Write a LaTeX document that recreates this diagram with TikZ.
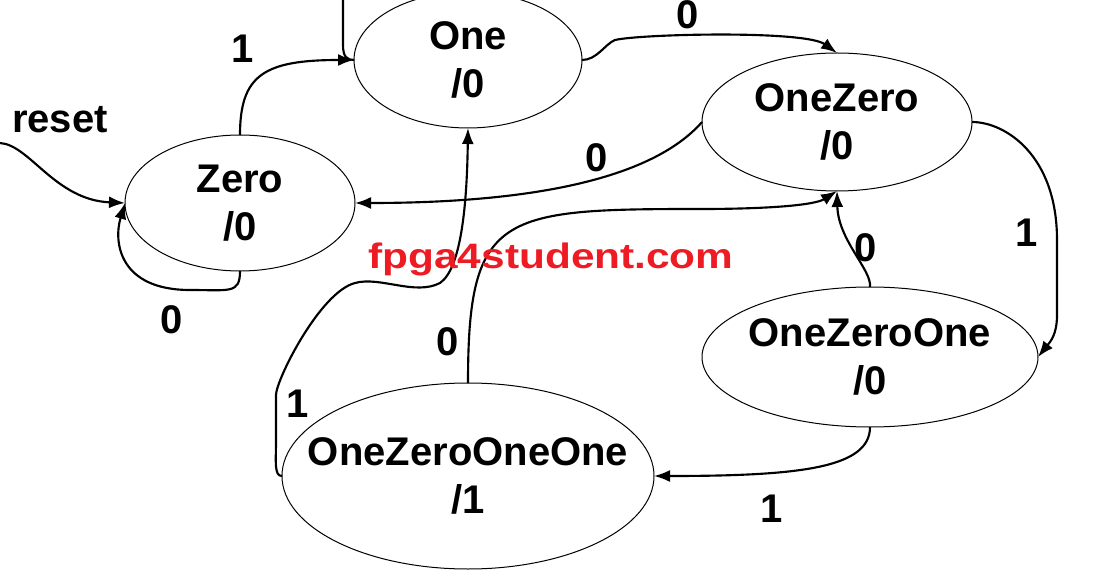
\documentclass[tikz,border=0pt]{standalone}
\usepackage{fontspec}
\setmainfont{Liberation Sans}
\usetikzlibrary{arrows.meta}
\usetikzlibrary{shapes.geometric}
\definecolor{webred}{RGB}{237,28,36}

\tikzset{
  state/.style={draw, ellipse, line width=0.75pt, inner sep=-40pt, outer sep=0pt, align=center, font=\bfseries\fontsize{30}{36}\selectfont},
  edge/.style={line width=1.6pt, -{Latex[length=12pt,width=9pt]}},
  bare/.style={line width=1.6pt},
  tlabel/.style={anchor=base, inner sep=0pt, font=\bfseries\fontsize{30}{36}\selectfont},
}

\begin{document}
\begin{tikzpicture}[x=0.75pt,y=0.75pt,yscale=-1,xscale=1]
\useasboundingbox (0,0) rectangle (1099,577);
\clip (0,0) rectangle (1099,577);

% Ellipse
\node (zero) [state, minimum width=172.5pt, minimum height=102pt] at (240,203) {Zero\\/0};
% Ellipse
\node (one) [state, minimum width=171pt, minimum height=102pt] at (468,60) {One\\/0};
% Ellipse
\node (onezero) [state, minimum width=202.5pt, minimum height=103.5pt] at (837,122) {OneZero\\/0};
% Ellipse
\node (onezeroone) [state, minimum width=252pt, minimum height=105pt] at (870,357) {OneZeroOne\\/0};
% Ellipse
\node (onezerooneone) [state, minimum width=279pt, minimum height=139.5pt] at (468,476) {OneZeroOneOne\\/1};

\coordinate (resetstart) at (0,143);
\coordinate (oneloop) at (343,-5);

% Curve Lines
\draw [edge] (resetstart) .. controls (30,145) and (55,200) .. (zero.west);
% Curve Lines
\draw [edge] (zero.south) .. controls (240,294) and (230,290) .. (190,290) .. controls (120,290) and (113,243) .. (zero.west);
% Curve Lines
\draw [edge] (zero.north) .. controls +(0,-60) and +(-90,0) .. (one.west);
% Curve Lines
\draw [bare] (oneloop) -- (343,45) .. controls (343,57) and (347,60) .. (one.west);
% Curve Lines
\draw [edge] (one.east) .. controls (597,60) and (605,44) .. (615,40) .. controls (640,34) and (805,30) .. (onezero.north);
% Curve Lines
\draw [edge] (onezero.west) .. controls (660,170) and (560,203) .. (zero.east);
% Curve Lines
\draw [edge] (onezero.east) .. controls (1005,122) and (1057,155) .. (1057,240) -- (1057,315) .. controls (1057,335) and (1050,342) .. (onezeroone.east);
% Curve Lines
\draw [edge] (onezeroone.north) .. controls (872,270) and (838,240) .. (onezero.south);
% Curve Lines
\draw [edge] (onezeroone.south) .. controls (870,468) and (800,476) .. (onezerooneone.east);
% Curve Lines
\draw [edge] (onezerooneone.north) .. controls +(0,-170) and +(-200,0) .. (700,209) .. controls (770,209) and (815,205) .. (onezero.south);
% Curve Lines
\draw [edge] (onezerooneone.west) .. controls (274,476) and (276,462) .. (276,440) -- (276,395) .. controls (276,380) and (320,292) .. (355,283) .. controls (380,276) and (415,296) .. (440,283) .. controls (462,268) and (467,200) .. (one.south);

% Text Node
\node (lreset) [tlabel] at (60,133) {reset};
% Text Node
\node (lzeroone) [tlabel] at (243,63) {1};
% Text Node
\node (lonetwo) [tlabel] at (688,29) {0};
% Text Node
\node (ltwozero) [tlabel] at (597,172) {0};
% Text Node
\node (ltwothree) [tlabel] at (1027,247) {1};
% Text Node
\node (lthreetwo) [tlabel] at (866,262) {0};
% Text Node
\node (lfourtwo) [tlabel] at (448,355) {0};
% Text Node
\node (lfourone) [tlabel] at (298,417) {1};
% Text Node
\node (lthreefour) [tlabel] at (772,522) {1};
% Text Node
\node (lzerozero) [tlabel] at (172,333) {0};
% Text Node
\node (site) [anchor=base, inner sep=0pt, text=webred, xscale=1.2, font=\bfseries\fontsize{26.5}{30}\selectfont] at (551,268) {fpga4student.com};

\end{tikzpicture}
\end{document}
